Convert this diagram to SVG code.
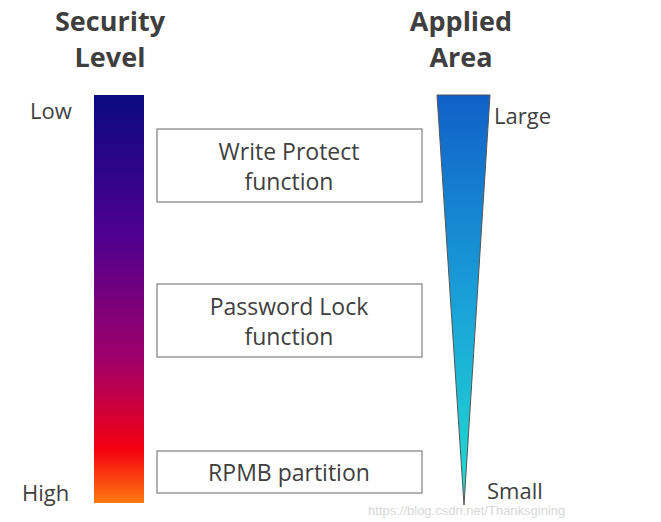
<svg xmlns="http://www.w3.org/2000/svg" width="661" height="522" viewBox="0 0 661 522">
<style>
.t{font-family:"Open Sans","DejaVu Sans",sans-serif;fill:#404040}
.h{font-family:"Open Sans","DejaVu Sans",sans-serif;font-weight:bold;font-size:27px;fill:#3f3f3f;text-anchor:middle}
.l{font-size:22px}
.b{fill:#fff;stroke:#7f7f7f;stroke-width:1.2}
.c{text-anchor:middle;font-size:23px}
</style>
<defs>
<linearGradient id="sec" x1="0" y1="0" x2="0" y2="1">
<stop offset="0" stop-color="#0a0a80"/>
<stop offset="0.35" stop-color="#50008e"/>
<stop offset="0.65" stop-color="#a0006a"/>
<stop offset="0.87" stop-color="#f50010"/>
<stop offset="1" stop-color="#ff7a10"/>
</linearGradient>
<linearGradient id="area" x1="0" y1="0" x2="0" y2="1">
<stop offset="0" stop-color="#1060c8"/>
<stop offset="0.5" stop-color="#1aa0d8"/>
<stop offset="1" stop-color="#20e0d0"/>
</linearGradient>
</defs>
<g id="title-security"><text class="h" x="110" y="31">Security</text><text class="h" x="110" y="67">Level</text></g>
<g id="title-area"><text class="h" x="461" y="31">Applied</text><text class="h" x="461" y="67">Area</text></g>
<g id="security-bar"><rect x="94" y="95" width="50" height="408" fill="url(#sec)"/>
<text class="t l" x="30" y="119">Low</text><text class="t l" x="22" y="501">High</text></g>
<g id="area-wedge"><polygon points="437,95 490,95 464,505" fill="url(#area)" stroke="#555" stroke-width="1"/>
<text class="t l" x="494" y="124">Large</text><text class="t l" x="487" y="499">Small</text></g>
<g id="node-wp"><rect class="b" x="157" y="129" width="265" height="73"/><text class="t c" x="289" y="160">Write Protect</text><text class="t c" x="289" y="190">function</text></g>
<g id="node-pl"><rect class="b" x="157" y="284" width="265" height="73"/><text class="t c" x="289" y="315">Password Lock</text><text class="t c" x="289" y="345">function</text></g>
<g id="node-rpmb"><rect class="b" x="157" y="451" width="265" height="42"/><text class="t c" x="289" y="481">RPMB partition</text></g>
<g id="connectors"/>
<text x="368" y="515" font-family="Liberation Sans,sans-serif" font-size="13" fill="#d8d8d8">https://blog.csdn.net/Thanksgining</text>
</svg>
